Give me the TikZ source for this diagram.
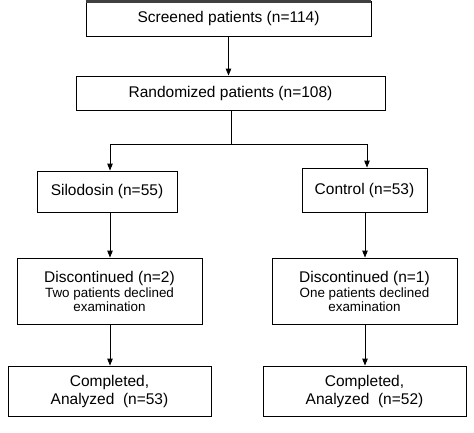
\documentclass[tikz,border=0pt]{standalone}
\usepackage{fontspec}
\setmainfont{Liberation Sans}
\usetikzlibrary{arrows.meta}
\newcommand{\subtxt}[1]{{\fontsize{13.4}{15}\selectfont #1}}
\begin{document}
\begin{tikzpicture}[x=1pt,y=-1pt,
  box/.style={draw=black,line width=0.9pt,inner sep=0pt,align=center,font=\fontsize{15.5}{18}\selectfont},
  arr/.style={line width=0.9pt,-{Triangle[length=7pt,width=5.5pt]}},
  ln/.style={line width=0.9pt}]
\useasboundingbox (0,0) rectangle (474,432);
\node[box,minimum width=285pt,minimum height=35pt] (scr) at (228.5,18.5) {Screened patients (n=114)};
\draw[line width=3pt,black!75] ([yshift=-1pt]scr.north west) -- ([yshift=-1pt]scr.north east);
\node[box,minimum width=309pt,minimum height=34pt] (ran) at (230.5,93) {Randomized patients (n=108)};
\node[box,minimum width=140pt,minimum height=41pt] (sil) at (107,191.5) {Silodosin (n=55)};
\node[box,minimum width=125pt,minimum height=44pt] (con) at (364.5,190) {Control (n=53)};
\node[box,minimum width=185pt,minimum height=66pt] (dl) at (109.5,291) {Discontinued (n=2)\\[-3pt]\subtxt{Two patients declined}\\[-4pt]\subtxt{examination}};
\node[box,minimum width=185pt,minimum height=66pt] (dr) at (364.5,291) {Discontinued (n=1)\\[-3pt]\subtxt{One patients declined}\\[-4pt]\subtxt{examination}};
\node[box,minimum width=203pt,minimum height=50pt] (cl) at (109.5,391) {Completed,\\Analyzed\ \ (n=53)};
\node[box,minimum width=203pt,minimum height=50pt] (cr) at (364.5,391) {Completed,\\Analyzed\ \ (n=52)};
\draw[arr] (scr.south) -- (scr.south |- ran.north);
\coordinate (mid) at (231.5,144);
\coordinate (bl) at (110,144);
\coordinate (br) at (367,144);
\draw[ln] (ran.south -| mid) -- (mid);
\draw[ln] (bl) -- (br);
\draw[arr] (bl) -- (bl |- sil.north);
\draw[arr] (br) -- (br |- con.north);
\draw[arr] (bl |- sil.south) -- (bl |- dl.north);
\coordinate (rx) at (365,0);
\draw[arr] (rx |- con.south) -- (rx |- dr.north);
\draw[arr] (bl |- dl.south) -- (bl |- cl.north);
\draw[arr] (rx |- dr.south) -- (rx |- cr.north);
\end{tikzpicture}
\end{document}
